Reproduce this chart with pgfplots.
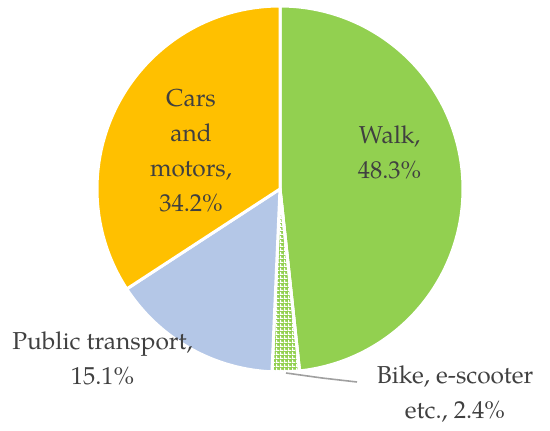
\documentclass[border=0pt]{standalone}
\usepackage{pgfplots}
\pgfplotsset{compat=1.18}
\usepackage{fontspec}
\setmainfont{TeX Gyre Pagella}
\usetikzlibrary{patterns}
\definecolor{walk}{HTML}{92D050}
\definecolor{cars}{HTML}{FFC000}
\definecolor{ptc}{HTML}{B4C7E7}
\definecolor{txt}{HTML}{404040}
\definecolor{lead}{HTML}{A0A0A0}
\pgfdeclarepatternformonly{wgrid}{\pgfpointorigin}{\pgfpoint{4pt}{4pt}}{\pgfpoint{4pt}{4pt}}{%
  \pgfpathrectangle{\pgfpointorigin}{\pgfpoint{4pt}{1.4pt}}%
  \pgfpathrectangle{\pgfpointorigin}{\pgfpoint{1.4pt}{4pt}}%
  \pgfusepath{fill}}
\begin{document}
\begin{tikzpicture}
\def\cx{280}\def\cy{242}\def\R{183}
% shares in percent
\def\pWalk{48.3}\def\pBike{2.4}\def\pPT{15.1}\def\pCars{34.2}
\pgfmathsetmacro\aA{90}
\pgfmathsetmacro\aB{90-\pWalk*3.6}
\pgfmathsetmacro\aC{\aB-\pBike*3.6}
\pgfmathsetmacro\aD{\aC-\pPT*3.6}
\pgfmathsetmacro\aE{\aD-\pCars*3.6}
\begin{axis}[x=1pt,y=1pt,xmin=0,xmax=550,ymin=0,ymax=431,hide axis,scale only axis,clip=false,
  every axis plot/.append style={line join=round,samples=150,variable=\t}]
\path (axis cs:0,0) rectangle (axis cs:550,431);
\addplot[fill=walk,draw=white,line width=3pt,domain=\aB:\aA] ({\cx+\R*cos(\t)},{\cy+\R*sin(\t)}) -- (axis cs:\cx,\cy) -- cycle;
\addplot[fill=walk,draw=white,line width=3pt,postaction={pattern=wgrid,pattern color=white},domain=\aC:\aB,samples=20] ({\cx+\R*cos(\t)},{\cy+\R*sin(\t)}) -- (axis cs:\cx,\cy) -- cycle;
\addplot[fill=ptc,draw=white,line width=3pt,domain=\aD:\aC] ({\cx+\R*cos(\t)},{\cy+\R*sin(\t)}) -- (axis cs:\cx,\cy) -- cycle;
\addplot[fill=cars,draw=white,line width=3pt,domain=\aE:\aD] ({\cx+\R*cos(\t)},{\cy+\R*sin(\t)}) -- (axis cs:\cx,\cy) -- cycle;
\addplot[draw=lead,line width=1.6pt] coordinates {(286,58) (322,53) (357,49)};
\node[align=center,font=\fontsize{24.5}{35}\selectfont,text=txt] at (axis cs:389.5,279) {Walk,\\48.3\%};
\node[align=center,font=\fontsize{24.5}{35}\selectfont,text=txt] at (axis cs:191,280) {Cars\\and\\motors,\\34.2\%};
\node[align=center,font=\fontsize{24.5}{35}\selectfont,text=txt] at (axis cs:102.5,73) {Public transport,\\15.1\%};
\node[align=center,font=\fontsize{24.5}{35}\selectfont,text=txt] at (axis cs:455,37) {Bike, e-scooter\\etc., 2.4\%};
\end{axis}
\end{tikzpicture}
\end{document}
